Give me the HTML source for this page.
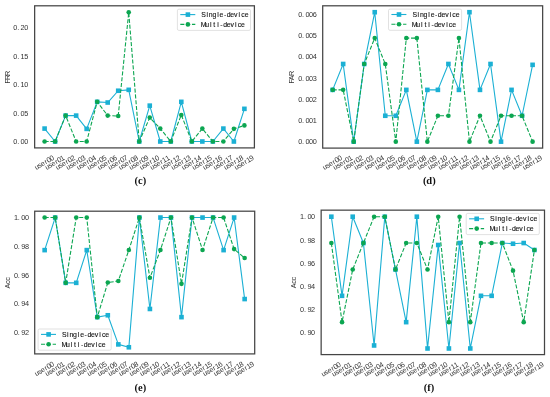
<!DOCTYPE html>
<html><head><meta charset="utf-8"><title>Figure</title>
<style>html,body{margin:0;padding:0;background:#fff}svg{display:block}</style></head>
<body>
<svg width="550" height="397" viewBox="0 0 550 397">
<rect width="550" height="397" fill="#fff"/>
<g>
<polyline points="44.60,128.58 55.12,141.50 65.63,115.61 76.15,115.61 86.66,128.87 97.18,101.84 107.69,102.52 118.21,90.75 128.73,89.83 139.24,141.50 149.76,105.65 160.27,141.50 170.79,141.50 181.31,101.84 191.82,141.50 202.34,141.50 212.85,141.50 223.37,128.58 233.88,141.50 244.40,108.84" fill="none" stroke="#1BB0D4" stroke-width="1.10" stroke-linejoin="round"/>
<rect x="42.30" y="126.28" width="4.60" height="4.60" fill="#1BB0D4"/>
<rect x="52.82" y="139.20" width="4.60" height="4.60" fill="#1BB0D4"/>
<rect x="63.33" y="113.31" width="4.60" height="4.60" fill="#1BB0D4"/>
<rect x="73.85" y="113.31" width="4.60" height="4.60" fill="#1BB0D4"/>
<rect x="84.36" y="126.57" width="4.60" height="4.60" fill="#1BB0D4"/>
<rect x="94.88" y="99.54" width="4.60" height="4.60" fill="#1BB0D4"/>
<rect x="105.39" y="100.22" width="4.60" height="4.60" fill="#1BB0D4"/>
<rect x="115.91" y="88.45" width="4.60" height="4.60" fill="#1BB0D4"/>
<rect x="126.43" y="87.53" width="4.60" height="4.60" fill="#1BB0D4"/>
<rect x="136.94" y="139.20" width="4.60" height="4.60" fill="#1BB0D4"/>
<rect x="147.46" y="103.35" width="4.60" height="4.60" fill="#1BB0D4"/>
<rect x="157.97" y="139.20" width="4.60" height="4.60" fill="#1BB0D4"/>
<rect x="168.49" y="139.20" width="4.60" height="4.60" fill="#1BB0D4"/>
<rect x="179.01" y="99.54" width="4.60" height="4.60" fill="#1BB0D4"/>
<rect x="189.52" y="139.20" width="4.60" height="4.60" fill="#1BB0D4"/>
<rect x="200.04" y="139.20" width="4.60" height="4.60" fill="#1BB0D4"/>
<rect x="210.55" y="139.20" width="4.60" height="4.60" fill="#1BB0D4"/>
<rect x="221.07" y="126.28" width="4.60" height="4.60" fill="#1BB0D4"/>
<rect x="231.58" y="139.20" width="4.60" height="4.60" fill="#1BB0D4"/>
<rect x="242.10" y="106.54" width="4.60" height="4.60" fill="#1BB0D4"/>
<polyline points="44.60,141.50 55.12,141.50 65.63,115.61 76.15,141.50 86.66,141.50 97.18,101.84 107.69,115.61 118.21,116.01 128.73,12.34 139.24,141.50 149.76,117.60 160.27,128.58 170.79,141.50 181.31,114.93 191.82,141.50 202.34,128.58 212.85,141.50 223.37,141.50 233.88,128.87 244.40,125.40" fill="none" stroke="#0CA651" stroke-width="1.10" stroke-dasharray="4.07 1.76" stroke-linejoin="round"/>
<circle cx="44.60" cy="141.50" r="2.30" fill="#0CA651"/>
<circle cx="55.12" cy="141.50" r="2.30" fill="#0CA651"/>
<circle cx="65.63" cy="115.61" r="2.30" fill="#0CA651"/>
<circle cx="76.15" cy="141.50" r="2.30" fill="#0CA651"/>
<circle cx="86.66" cy="141.50" r="2.30" fill="#0CA651"/>
<circle cx="97.18" cy="101.84" r="2.30" fill="#0CA651"/>
<circle cx="107.69" cy="115.61" r="2.30" fill="#0CA651"/>
<circle cx="118.21" cy="116.01" r="2.30" fill="#0CA651"/>
<circle cx="128.73" cy="12.34" r="2.30" fill="#0CA651"/>
<circle cx="139.24" cy="141.50" r="2.30" fill="#0CA651"/>
<circle cx="149.76" cy="117.60" r="2.30" fill="#0CA651"/>
<circle cx="160.27" cy="128.58" r="2.30" fill="#0CA651"/>
<circle cx="170.79" cy="141.50" r="2.30" fill="#0CA651"/>
<circle cx="181.31" cy="114.93" r="2.30" fill="#0CA651"/>
<circle cx="191.82" cy="141.50" r="2.30" fill="#0CA651"/>
<circle cx="202.34" cy="128.58" r="2.30" fill="#0CA651"/>
<circle cx="212.85" cy="141.50" r="2.30" fill="#0CA651"/>
<circle cx="223.37" cy="141.50" r="2.30" fill="#0CA651"/>
<circle cx="233.88" cy="128.87" r="2.30" fill="#0CA651"/>
<circle cx="244.40" cy="125.40" r="2.30" fill="#0CA651"/>
<rect x="34.65" y="5.80" width="219.75" height="142.10" fill="none" stroke="#454545" stroke-width="1.25"/>
<text transform="translate(28.10,144.10)" x="-12.78 -9.93 -5.47 -1.82" text-anchor="middle" font-family="'Liberation Sans',sans-serif" font-size="7.3" fill="#333">0.00</text>
<text transform="translate(28.10,115.65)" x="-12.78 -9.93 -5.47 -1.82" text-anchor="middle" font-family="'Liberation Sans',sans-serif" font-size="7.3" fill="#333">0.05</text>
<text transform="translate(28.10,87.20)" x="-12.78 -9.93 -5.47 -1.82" text-anchor="middle" font-family="'Liberation Sans',sans-serif" font-size="7.3" fill="#333">0.10</text>
<text transform="translate(28.10,58.75)" x="-12.78 -9.93 -5.47 -1.82" text-anchor="middle" font-family="'Liberation Sans',sans-serif" font-size="7.3" fill="#333">0.15</text>
<text transform="translate(28.10,30.30)" x="-12.78 -9.93 -5.47 -1.82" text-anchor="middle" font-family="'Liberation Sans',sans-serif" font-size="7.3" fill="#333">0.20</text>
<text transform="translate(45.40,164.60) rotate(-30)" x="-8.75 -5.25 -1.75 1.75 5.25 8.75" text-anchor="middle" font-family="'Liberation Sans',sans-serif" font-size="7.3" fill="#333"><tspan font-size="7.0">user</tspan>00</text>
<text transform="translate(55.92,164.60) rotate(-30)" x="-8.75 -5.25 -1.75 1.75 5.25 8.75" text-anchor="middle" font-family="'Liberation Sans',sans-serif" font-size="7.3" fill="#333"><tspan font-size="7.0">user</tspan>01</text>
<text transform="translate(66.43,164.60) rotate(-30)" x="-8.75 -5.25 -1.75 1.75 5.25 8.75" text-anchor="middle" font-family="'Liberation Sans',sans-serif" font-size="7.3" fill="#333"><tspan font-size="7.0">user</tspan>02</text>
<text transform="translate(76.95,164.60) rotate(-30)" x="-8.75 -5.25 -1.75 1.75 5.25 8.75" text-anchor="middle" font-family="'Liberation Sans',sans-serif" font-size="7.3" fill="#333"><tspan font-size="7.0">user</tspan>03</text>
<text transform="translate(87.46,164.60) rotate(-30)" x="-8.75 -5.25 -1.75 1.75 5.25 8.75" text-anchor="middle" font-family="'Liberation Sans',sans-serif" font-size="7.3" fill="#333"><tspan font-size="7.0">user</tspan>04</text>
<text transform="translate(97.98,164.60) rotate(-30)" x="-8.75 -5.25 -1.75 1.75 5.25 8.75" text-anchor="middle" font-family="'Liberation Sans',sans-serif" font-size="7.3" fill="#333"><tspan font-size="7.0">user</tspan>05</text>
<text transform="translate(108.49,164.60) rotate(-30)" x="-8.75 -5.25 -1.75 1.75 5.25 8.75" text-anchor="middle" font-family="'Liberation Sans',sans-serif" font-size="7.3" fill="#333"><tspan font-size="7.0">user</tspan>06</text>
<text transform="translate(119.01,164.60) rotate(-30)" x="-8.75 -5.25 -1.75 1.75 5.25 8.75" text-anchor="middle" font-family="'Liberation Sans',sans-serif" font-size="7.3" fill="#333"><tspan font-size="7.0">user</tspan>07</text>
<text transform="translate(129.53,164.60) rotate(-30)" x="-8.75 -5.25 -1.75 1.75 5.25 8.75" text-anchor="middle" font-family="'Liberation Sans',sans-serif" font-size="7.3" fill="#333"><tspan font-size="7.0">user</tspan>08</text>
<text transform="translate(140.04,164.60) rotate(-30)" x="-8.75 -5.25 -1.75 1.75 5.25 8.75" text-anchor="middle" font-family="'Liberation Sans',sans-serif" font-size="7.3" fill="#333"><tspan font-size="7.0">user</tspan>09</text>
<text transform="translate(150.56,164.60) rotate(-30)" x="-8.75 -5.25 -1.75 1.75 5.25 8.75" text-anchor="middle" font-family="'Liberation Sans',sans-serif" font-size="7.3" fill="#333"><tspan font-size="7.0">user</tspan>10</text>
<text transform="translate(161.07,164.60) rotate(-30)" x="-8.75 -5.25 -1.75 1.75 5.25 8.75" text-anchor="middle" font-family="'Liberation Sans',sans-serif" font-size="7.3" fill="#333"><tspan font-size="7.0">user</tspan>11</text>
<text transform="translate(171.59,164.60) rotate(-30)" x="-8.75 -5.25 -1.75 1.75 5.25 8.75" text-anchor="middle" font-family="'Liberation Sans',sans-serif" font-size="7.3" fill="#333"><tspan font-size="7.0">user</tspan>12</text>
<text transform="translate(182.11,164.60) rotate(-30)" x="-8.75 -5.25 -1.75 1.75 5.25 8.75" text-anchor="middle" font-family="'Liberation Sans',sans-serif" font-size="7.3" fill="#333"><tspan font-size="7.0">user</tspan>13</text>
<text transform="translate(192.62,164.60) rotate(-30)" x="-8.75 -5.25 -1.75 1.75 5.25 8.75" text-anchor="middle" font-family="'Liberation Sans',sans-serif" font-size="7.3" fill="#333"><tspan font-size="7.0">user</tspan>14</text>
<text transform="translate(203.14,164.60) rotate(-30)" x="-8.75 -5.25 -1.75 1.75 5.25 8.75" text-anchor="middle" font-family="'Liberation Sans',sans-serif" font-size="7.3" fill="#333"><tspan font-size="7.0">user</tspan>15</text>
<text transform="translate(213.65,164.60) rotate(-30)" x="-8.75 -5.25 -1.75 1.75 5.25 8.75" text-anchor="middle" font-family="'Liberation Sans',sans-serif" font-size="7.3" fill="#333"><tspan font-size="7.0">user</tspan>16</text>
<text transform="translate(224.17,164.60) rotate(-30)" x="-8.75 -5.25 -1.75 1.75 5.25 8.75" text-anchor="middle" font-family="'Liberation Sans',sans-serif" font-size="7.3" fill="#333"><tspan font-size="7.0">user</tspan>17</text>
<text transform="translate(234.68,164.60) rotate(-30)" x="-8.75 -5.25 -1.75 1.75 5.25 8.75" text-anchor="middle" font-family="'Liberation Sans',sans-serif" font-size="7.3" fill="#333"><tspan font-size="7.0">user</tspan>18</text>
<text transform="translate(245.20,164.60) rotate(-30)" x="-8.75 -5.25 -1.75 1.75 5.25 8.75" text-anchor="middle" font-family="'Liberation Sans',sans-serif" font-size="7.3" fill="#333"><tspan font-size="7.0">user</tspan>19</text>
<text transform="translate(10.20,77.05) rotate(-90)" text-anchor="middle" font-family="'Liberation Sans',sans-serif" font-size="7.3" fill="#333" textLength="12.75" lengthAdjust="spacing">FRR</text>
<rect x="177.40" y="9.20" width="73.1" height="21.2" rx="1.5" ry="1.5" fill="#fff" fill-opacity="0.8" stroke="#ccc" stroke-width="0.6"/>
<line x1="180.30" y1="14.60" x2="195.30" y2="14.60" stroke="#1BB0D4" stroke-width="1.10"/>
<rect x="185.60" y="12.30" width="4.60" height="4.60" fill="#1BB0D4"/>
<line x1="180.30" y1="24.40" x2="195.30" y2="24.40" stroke="#0CA651" stroke-width="1.10" stroke-dasharray="4.07 1.76"/>
<circle cx="187.90" cy="24.40" r="2.30" fill="#0CA651"/>
<text transform="translate(201.80,17.10)" x="1.79 5.37 8.95 12.53 16.11 19.69 23.27 26.85 30.43 34.01 37.59 41.17 44.75" text-anchor="middle" font-family="'Liberation Sans',sans-serif" font-size="6.9" fill="#151515" stroke="#151515" stroke-width="0.12">Single-device</text>
<text transform="translate(201.80,26.90)" x="1.79 5.37 8.95 12.53 16.11 19.69 23.27 26.85 30.43 34.01 37.59 41.17" text-anchor="middle" font-family="'Liberation Sans',sans-serif" font-size="6.9" fill="#151515" stroke="#151515" stroke-width="0.12">Multi-device</text>
<text x="140.40" y="183.90" text-anchor="middle" font-family="'Liberation Serif',serif" font-weight="bold" font-size="10.5" fill="#111">(c)</text>
</g>
<g>
<polyline points="332.65,89.87 343.17,63.98 353.70,141.65 364.22,63.98 374.74,12.21 385.27,115.76 395.79,115.76 406.32,89.87 416.84,141.65 427.36,89.87 437.89,89.87 448.41,63.98 458.93,89.87 469.46,12.21 479.98,89.87 490.51,63.98 501.03,141.65 511.55,89.87 522.08,115.76 532.60,64.83" fill="none" stroke="#1BB0D4" stroke-width="1.10" stroke-linejoin="round"/>
<rect x="330.35" y="87.57" width="4.60" height="4.60" fill="#1BB0D4"/>
<rect x="340.87" y="61.68" width="4.60" height="4.60" fill="#1BB0D4"/>
<rect x="351.40" y="139.35" width="4.60" height="4.60" fill="#1BB0D4"/>
<rect x="361.92" y="61.68" width="4.60" height="4.60" fill="#1BB0D4"/>
<rect x="372.44" y="9.91" width="4.60" height="4.60" fill="#1BB0D4"/>
<rect x="382.97" y="113.46" width="4.60" height="4.60" fill="#1BB0D4"/>
<rect x="393.49" y="113.46" width="4.60" height="4.60" fill="#1BB0D4"/>
<rect x="404.02" y="87.57" width="4.60" height="4.60" fill="#1BB0D4"/>
<rect x="414.54" y="139.35" width="4.60" height="4.60" fill="#1BB0D4"/>
<rect x="425.06" y="87.57" width="4.60" height="4.60" fill="#1BB0D4"/>
<rect x="435.59" y="87.57" width="4.60" height="4.60" fill="#1BB0D4"/>
<rect x="446.11" y="61.68" width="4.60" height="4.60" fill="#1BB0D4"/>
<rect x="456.63" y="87.57" width="4.60" height="4.60" fill="#1BB0D4"/>
<rect x="467.16" y="9.91" width="4.60" height="4.60" fill="#1BB0D4"/>
<rect x="477.68" y="87.57" width="4.60" height="4.60" fill="#1BB0D4"/>
<rect x="488.21" y="61.68" width="4.60" height="4.60" fill="#1BB0D4"/>
<rect x="498.73" y="139.35" width="4.60" height="4.60" fill="#1BB0D4"/>
<rect x="509.25" y="87.57" width="4.60" height="4.60" fill="#1BB0D4"/>
<rect x="519.78" y="113.46" width="4.60" height="4.60" fill="#1BB0D4"/>
<rect x="530.30" y="62.53" width="4.60" height="4.60" fill="#1BB0D4"/>
<polyline points="332.65,89.87 343.17,89.87 353.70,141.65 364.22,63.98 374.74,38.10 385.27,63.98 395.79,141.65 406.32,38.10 416.84,38.10 427.36,141.65 437.89,115.76 448.41,115.76 458.93,38.10 469.46,141.65 479.98,115.76 490.51,141.65 501.03,115.76 511.55,115.76 522.08,115.76 532.60,141.65" fill="none" stroke="#0CA651" stroke-width="1.10" stroke-dasharray="4.07 1.76" stroke-linejoin="round"/>
<circle cx="332.65" cy="89.87" r="2.30" fill="#0CA651"/>
<circle cx="343.17" cy="89.87" r="2.30" fill="#0CA651"/>
<circle cx="353.70" cy="141.65" r="2.30" fill="#0CA651"/>
<circle cx="364.22" cy="63.98" r="2.30" fill="#0CA651"/>
<circle cx="374.74" cy="38.10" r="2.30" fill="#0CA651"/>
<circle cx="385.27" cy="63.98" r="2.30" fill="#0CA651"/>
<circle cx="395.79" cy="141.65" r="2.30" fill="#0CA651"/>
<circle cx="406.32" cy="38.10" r="2.30" fill="#0CA651"/>
<circle cx="416.84" cy="38.10" r="2.30" fill="#0CA651"/>
<circle cx="427.36" cy="141.65" r="2.30" fill="#0CA651"/>
<circle cx="437.89" cy="115.76" r="2.30" fill="#0CA651"/>
<circle cx="448.41" cy="115.76" r="2.30" fill="#0CA651"/>
<circle cx="458.93" cy="38.10" r="2.30" fill="#0CA651"/>
<circle cx="469.46" cy="141.65" r="2.30" fill="#0CA651"/>
<circle cx="479.98" cy="115.76" r="2.30" fill="#0CA651"/>
<circle cx="490.51" cy="141.65" r="2.30" fill="#0CA651"/>
<circle cx="501.03" cy="115.76" r="2.30" fill="#0CA651"/>
<circle cx="511.55" cy="115.76" r="2.30" fill="#0CA651"/>
<circle cx="522.08" cy="115.76" r="2.30" fill="#0CA651"/>
<circle cx="532.60" cy="141.65" r="2.30" fill="#0CA651"/>
<rect x="322.70" y="5.80" width="219.95" height="142.30" fill="none" stroke="#454545" stroke-width="1.25"/>
<text transform="translate(316.60,144.25)" x="-16.43 -13.58 -9.12 -5.47 -1.82" text-anchor="middle" font-family="'Liberation Sans',sans-serif" font-size="7.3" fill="#333">0.000</text>
<text transform="translate(316.60,123.03)" x="-16.43 -13.58 -9.12 -5.47 -1.82" text-anchor="middle" font-family="'Liberation Sans',sans-serif" font-size="7.3" fill="#333">0.001</text>
<text transform="translate(316.60,101.81)" x="-16.43 -13.58 -9.12 -5.47 -1.82" text-anchor="middle" font-family="'Liberation Sans',sans-serif" font-size="7.3" fill="#333">0.002</text>
<text transform="translate(316.60,80.59)" x="-16.43 -13.58 -9.12 -5.47 -1.82" text-anchor="middle" font-family="'Liberation Sans',sans-serif" font-size="7.3" fill="#333">0.003</text>
<text transform="translate(316.60,59.37)" x="-16.43 -13.58 -9.12 -5.47 -1.82" text-anchor="middle" font-family="'Liberation Sans',sans-serif" font-size="7.3" fill="#333">0.004</text>
<text transform="translate(316.60,38.15)" x="-16.43 -13.58 -9.12 -5.47 -1.82" text-anchor="middle" font-family="'Liberation Sans',sans-serif" font-size="7.3" fill="#333">0.005</text>
<text transform="translate(316.60,16.93)" x="-16.43 -13.58 -9.12 -5.47 -1.82" text-anchor="middle" font-family="'Liberation Sans',sans-serif" font-size="7.3" fill="#333">0.006</text>
<text transform="translate(333.45,164.70) rotate(-30)" x="-8.75 -5.25 -1.75 1.75 5.25 8.75" text-anchor="middle" font-family="'Liberation Sans',sans-serif" font-size="7.3" fill="#333"><tspan font-size="7.0">user</tspan>00</text>
<text transform="translate(343.97,164.70) rotate(-30)" x="-8.75 -5.25 -1.75 1.75 5.25 8.75" text-anchor="middle" font-family="'Liberation Sans',sans-serif" font-size="7.3" fill="#333"><tspan font-size="7.0">user</tspan>01</text>
<text transform="translate(354.50,164.70) rotate(-30)" x="-8.75 -5.25 -1.75 1.75 5.25 8.75" text-anchor="middle" font-family="'Liberation Sans',sans-serif" font-size="7.3" fill="#333"><tspan font-size="7.0">user</tspan>02</text>
<text transform="translate(365.02,164.70) rotate(-30)" x="-8.75 -5.25 -1.75 1.75 5.25 8.75" text-anchor="middle" font-family="'Liberation Sans',sans-serif" font-size="7.3" fill="#333"><tspan font-size="7.0">user</tspan>03</text>
<text transform="translate(375.54,164.70) rotate(-30)" x="-8.75 -5.25 -1.75 1.75 5.25 8.75" text-anchor="middle" font-family="'Liberation Sans',sans-serif" font-size="7.3" fill="#333"><tspan font-size="7.0">user</tspan>04</text>
<text transform="translate(386.07,164.70) rotate(-30)" x="-8.75 -5.25 -1.75 1.75 5.25 8.75" text-anchor="middle" font-family="'Liberation Sans',sans-serif" font-size="7.3" fill="#333"><tspan font-size="7.0">user</tspan>05</text>
<text transform="translate(396.59,164.70) rotate(-30)" x="-8.75 -5.25 -1.75 1.75 5.25 8.75" text-anchor="middle" font-family="'Liberation Sans',sans-serif" font-size="7.3" fill="#333"><tspan font-size="7.0">user</tspan>06</text>
<text transform="translate(407.12,164.70) rotate(-30)" x="-8.75 -5.25 -1.75 1.75 5.25 8.75" text-anchor="middle" font-family="'Liberation Sans',sans-serif" font-size="7.3" fill="#333"><tspan font-size="7.0">user</tspan>07</text>
<text transform="translate(417.64,164.70) rotate(-30)" x="-8.75 -5.25 -1.75 1.75 5.25 8.75" text-anchor="middle" font-family="'Liberation Sans',sans-serif" font-size="7.3" fill="#333"><tspan font-size="7.0">user</tspan>08</text>
<text transform="translate(428.16,164.70) rotate(-30)" x="-8.75 -5.25 -1.75 1.75 5.25 8.75" text-anchor="middle" font-family="'Liberation Sans',sans-serif" font-size="7.3" fill="#333"><tspan font-size="7.0">user</tspan>09</text>
<text transform="translate(438.69,164.70) rotate(-30)" x="-8.75 -5.25 -1.75 1.75 5.25 8.75" text-anchor="middle" font-family="'Liberation Sans',sans-serif" font-size="7.3" fill="#333"><tspan font-size="7.0">user</tspan>10</text>
<text transform="translate(449.21,164.70) rotate(-30)" x="-8.75 -5.25 -1.75 1.75 5.25 8.75" text-anchor="middle" font-family="'Liberation Sans',sans-serif" font-size="7.3" fill="#333"><tspan font-size="7.0">user</tspan>11</text>
<text transform="translate(459.73,164.70) rotate(-30)" x="-8.75 -5.25 -1.75 1.75 5.25 8.75" text-anchor="middle" font-family="'Liberation Sans',sans-serif" font-size="7.3" fill="#333"><tspan font-size="7.0">user</tspan>12</text>
<text transform="translate(470.26,164.70) rotate(-30)" x="-8.75 -5.25 -1.75 1.75 5.25 8.75" text-anchor="middle" font-family="'Liberation Sans',sans-serif" font-size="7.3" fill="#333"><tspan font-size="7.0">user</tspan>13</text>
<text transform="translate(480.78,164.70) rotate(-30)" x="-8.75 -5.25 -1.75 1.75 5.25 8.75" text-anchor="middle" font-family="'Liberation Sans',sans-serif" font-size="7.3" fill="#333"><tspan font-size="7.0">user</tspan>14</text>
<text transform="translate(491.31,164.70) rotate(-30)" x="-8.75 -5.25 -1.75 1.75 5.25 8.75" text-anchor="middle" font-family="'Liberation Sans',sans-serif" font-size="7.3" fill="#333"><tspan font-size="7.0">user</tspan>15</text>
<text transform="translate(501.83,164.70) rotate(-30)" x="-8.75 -5.25 -1.75 1.75 5.25 8.75" text-anchor="middle" font-family="'Liberation Sans',sans-serif" font-size="7.3" fill="#333"><tspan font-size="7.0">user</tspan>16</text>
<text transform="translate(512.35,164.70) rotate(-30)" x="-8.75 -5.25 -1.75 1.75 5.25 8.75" text-anchor="middle" font-family="'Liberation Sans',sans-serif" font-size="7.3" fill="#333"><tspan font-size="7.0">user</tspan>17</text>
<text transform="translate(522.88,164.70) rotate(-30)" x="-8.75 -5.25 -1.75 1.75 5.25 8.75" text-anchor="middle" font-family="'Liberation Sans',sans-serif" font-size="7.3" fill="#333"><tspan font-size="7.0">user</tspan>18</text>
<text transform="translate(533.40,164.70) rotate(-30)" x="-8.75 -5.25 -1.75 1.75 5.25 8.75" text-anchor="middle" font-family="'Liberation Sans',sans-serif" font-size="7.3" fill="#333"><tspan font-size="7.0">user</tspan>19</text>
<text transform="translate(294.20,77.15) rotate(-90)" text-anchor="middle" font-family="'Liberation Sans',sans-serif" font-size="7.3" fill="#333" textLength="12.75" lengthAdjust="spacing">FAR</text>
<rect x="388.50" y="9.10" width="73.1" height="21.2" rx="1.5" ry="1.5" fill="#fff" fill-opacity="0.8" stroke="#ccc" stroke-width="0.6"/>
<line x1="391.40" y1="14.50" x2="406.40" y2="14.50" stroke="#1BB0D4" stroke-width="1.10"/>
<rect x="396.70" y="12.20" width="4.60" height="4.60" fill="#1BB0D4"/>
<line x1="391.40" y1="24.30" x2="406.40" y2="24.30" stroke="#0CA651" stroke-width="1.10" stroke-dasharray="4.07 1.76"/>
<circle cx="399.00" cy="24.30" r="2.30" fill="#0CA651"/>
<text transform="translate(412.90,17.00)" x="1.79 5.37 8.95 12.53 16.11 19.69 23.27 26.85 30.43 34.01 37.59 41.17 44.75" text-anchor="middle" font-family="'Liberation Sans',sans-serif" font-size="6.9" fill="#151515" stroke="#151515" stroke-width="0.12">Single-device</text>
<text transform="translate(412.90,26.80)" x="1.79 5.37 8.95 12.53 16.11 19.69 23.27 26.85 30.43 34.01 37.59 41.17" text-anchor="middle" font-family="'Liberation Sans',sans-serif" font-size="6.9" fill="#151515" stroke="#151515" stroke-width="0.12">Multi-device</text>
<text x="429.30" y="183.90" text-anchor="middle" font-family="'Liberation Serif',serif" font-weight="bold" font-size="10.5" fill="#111">(d)</text>
</g>
<g>
<polyline points="44.65,250.12 55.18,217.55 65.70,282.84 76.23,282.84 86.76,250.12 97.28,317.14 107.81,315.27 118.33,344.40 128.86,347.27 139.39,217.55 149.91,308.96 160.44,217.55 170.97,217.55 181.49,317.14 192.02,217.55 202.54,217.55 213.07,217.55 223.60,250.12 234.12,217.55 244.65,299.06" fill="none" stroke="#1BB0D4" stroke-width="1.10" stroke-linejoin="round"/>
<rect x="42.35" y="247.82" width="4.60" height="4.60" fill="#1BB0D4"/>
<rect x="52.88" y="215.25" width="4.60" height="4.60" fill="#1BB0D4"/>
<rect x="63.40" y="280.54" width="4.60" height="4.60" fill="#1BB0D4"/>
<rect x="73.93" y="280.54" width="4.60" height="4.60" fill="#1BB0D4"/>
<rect x="84.46" y="247.82" width="4.60" height="4.60" fill="#1BB0D4"/>
<rect x="94.98" y="314.84" width="4.60" height="4.60" fill="#1BB0D4"/>
<rect x="105.51" y="312.97" width="4.60" height="4.60" fill="#1BB0D4"/>
<rect x="116.03" y="342.10" width="4.60" height="4.60" fill="#1BB0D4"/>
<rect x="126.56" y="344.97" width="4.60" height="4.60" fill="#1BB0D4"/>
<rect x="137.09" y="215.25" width="4.60" height="4.60" fill="#1BB0D4"/>
<rect x="147.61" y="306.66" width="4.60" height="4.60" fill="#1BB0D4"/>
<rect x="158.14" y="215.25" width="4.60" height="4.60" fill="#1BB0D4"/>
<rect x="168.67" y="215.25" width="4.60" height="4.60" fill="#1BB0D4"/>
<rect x="179.19" y="314.84" width="4.60" height="4.60" fill="#1BB0D4"/>
<rect x="189.72" y="215.25" width="4.60" height="4.60" fill="#1BB0D4"/>
<rect x="200.24" y="215.25" width="4.60" height="4.60" fill="#1BB0D4"/>
<rect x="210.77" y="215.25" width="4.60" height="4.60" fill="#1BB0D4"/>
<rect x="221.30" y="247.82" width="4.60" height="4.60" fill="#1BB0D4"/>
<rect x="231.82" y="215.25" width="4.60" height="4.60" fill="#1BB0D4"/>
<rect x="242.35" y="296.76" width="4.60" height="4.60" fill="#1BB0D4"/>
<polyline points="44.65,217.55 55.18,217.55 65.70,282.84 76.23,217.55 86.76,217.55 97.28,317.14 107.81,282.56 118.33,280.98 128.86,249.98 139.39,217.55 149.91,277.82 160.44,249.98 170.97,217.55 181.49,283.85 192.02,217.55 202.54,249.98 213.07,217.55 223.60,217.55 234.12,249.12 244.65,258.02" fill="none" stroke="#0CA651" stroke-width="1.10" stroke-dasharray="4.07 1.76" stroke-linejoin="round"/>
<circle cx="44.65" cy="217.55" r="2.30" fill="#0CA651"/>
<circle cx="55.18" cy="217.55" r="2.30" fill="#0CA651"/>
<circle cx="65.70" cy="282.84" r="2.30" fill="#0CA651"/>
<circle cx="76.23" cy="217.55" r="2.30" fill="#0CA651"/>
<circle cx="86.76" cy="217.55" r="2.30" fill="#0CA651"/>
<circle cx="97.28" cy="317.14" r="2.30" fill="#0CA651"/>
<circle cx="107.81" cy="282.56" r="2.30" fill="#0CA651"/>
<circle cx="118.33" cy="280.98" r="2.30" fill="#0CA651"/>
<circle cx="128.86" cy="249.98" r="2.30" fill="#0CA651"/>
<circle cx="139.39" cy="217.55" r="2.30" fill="#0CA651"/>
<circle cx="149.91" cy="277.82" r="2.30" fill="#0CA651"/>
<circle cx="160.44" cy="249.98" r="2.30" fill="#0CA651"/>
<circle cx="170.97" cy="217.55" r="2.30" fill="#0CA651"/>
<circle cx="181.49" cy="283.85" r="2.30" fill="#0CA651"/>
<circle cx="192.02" cy="217.55" r="2.30" fill="#0CA651"/>
<circle cx="202.54" cy="249.98" r="2.30" fill="#0CA651"/>
<circle cx="213.07" cy="217.55" r="2.30" fill="#0CA651"/>
<circle cx="223.60" cy="217.55" r="2.30" fill="#0CA651"/>
<circle cx="234.12" cy="249.12" r="2.30" fill="#0CA651"/>
<circle cx="244.65" cy="258.02" r="2.30" fill="#0CA651"/>
<rect x="34.70" y="211.20" width="220.00" height="142.70" fill="none" stroke="#454545" stroke-width="1.25"/>
<text transform="translate(28.80,334.95)" x="-12.78 -9.93 -5.47 -1.82" text-anchor="middle" font-family="'Liberation Sans',sans-serif" font-size="7.3" fill="#333">0.92</text>
<text transform="translate(28.80,306.25)" x="-12.78 -9.93 -5.47 -1.82" text-anchor="middle" font-family="'Liberation Sans',sans-serif" font-size="7.3" fill="#333">0.94</text>
<text transform="translate(28.80,277.55)" x="-12.78 -9.93 -5.47 -1.82" text-anchor="middle" font-family="'Liberation Sans',sans-serif" font-size="7.3" fill="#333">0.96</text>
<text transform="translate(28.80,248.85)" x="-12.78 -9.93 -5.47 -1.82" text-anchor="middle" font-family="'Liberation Sans',sans-serif" font-size="7.3" fill="#333">0.98</text>
<text transform="translate(28.80,220.15)" x="-12.78 -9.93 -5.47 -1.82" text-anchor="middle" font-family="'Liberation Sans',sans-serif" font-size="7.3" fill="#333">1.00</text>
<text transform="translate(45.45,370.90) rotate(-30)" x="-8.75 -5.25 -1.75 1.75 5.25 8.75" text-anchor="middle" font-family="'Liberation Sans',sans-serif" font-size="7.3" fill="#333"><tspan font-size="7.0">user</tspan>00</text>
<text transform="translate(55.98,370.90) rotate(-30)" x="-8.75 -5.25 -1.75 1.75 5.25 8.75" text-anchor="middle" font-family="'Liberation Sans',sans-serif" font-size="7.3" fill="#333"><tspan font-size="7.0">user</tspan>01</text>
<text transform="translate(66.50,370.90) rotate(-30)" x="-8.75 -5.25 -1.75 1.75 5.25 8.75" text-anchor="middle" font-family="'Liberation Sans',sans-serif" font-size="7.3" fill="#333"><tspan font-size="7.0">user</tspan>02</text>
<text transform="translate(77.03,370.90) rotate(-30)" x="-8.75 -5.25 -1.75 1.75 5.25 8.75" text-anchor="middle" font-family="'Liberation Sans',sans-serif" font-size="7.3" fill="#333"><tspan font-size="7.0">user</tspan>03</text>
<text transform="translate(87.56,370.90) rotate(-30)" x="-8.75 -5.25 -1.75 1.75 5.25 8.75" text-anchor="middle" font-family="'Liberation Sans',sans-serif" font-size="7.3" fill="#333"><tspan font-size="7.0">user</tspan>04</text>
<text transform="translate(98.08,370.90) rotate(-30)" x="-8.75 -5.25 -1.75 1.75 5.25 8.75" text-anchor="middle" font-family="'Liberation Sans',sans-serif" font-size="7.3" fill="#333"><tspan font-size="7.0">user</tspan>05</text>
<text transform="translate(108.61,370.90) rotate(-30)" x="-8.75 -5.25 -1.75 1.75 5.25 8.75" text-anchor="middle" font-family="'Liberation Sans',sans-serif" font-size="7.3" fill="#333"><tspan font-size="7.0">user</tspan>06</text>
<text transform="translate(119.13,370.90) rotate(-30)" x="-8.75 -5.25 -1.75 1.75 5.25 8.75" text-anchor="middle" font-family="'Liberation Sans',sans-serif" font-size="7.3" fill="#333"><tspan font-size="7.0">user</tspan>07</text>
<text transform="translate(129.66,370.90) rotate(-30)" x="-8.75 -5.25 -1.75 1.75 5.25 8.75" text-anchor="middle" font-family="'Liberation Sans',sans-serif" font-size="7.3" fill="#333"><tspan font-size="7.0">user</tspan>08</text>
<text transform="translate(140.19,370.90) rotate(-30)" x="-8.75 -5.25 -1.75 1.75 5.25 8.75" text-anchor="middle" font-family="'Liberation Sans',sans-serif" font-size="7.3" fill="#333"><tspan font-size="7.0">user</tspan>09</text>
<text transform="translate(150.71,370.90) rotate(-30)" x="-8.75 -5.25 -1.75 1.75 5.25 8.75" text-anchor="middle" font-family="'Liberation Sans',sans-serif" font-size="7.3" fill="#333"><tspan font-size="7.0">user</tspan>10</text>
<text transform="translate(161.24,370.90) rotate(-30)" x="-8.75 -5.25 -1.75 1.75 5.25 8.75" text-anchor="middle" font-family="'Liberation Sans',sans-serif" font-size="7.3" fill="#333"><tspan font-size="7.0">user</tspan>11</text>
<text transform="translate(171.77,370.90) rotate(-30)" x="-8.75 -5.25 -1.75 1.75 5.25 8.75" text-anchor="middle" font-family="'Liberation Sans',sans-serif" font-size="7.3" fill="#333"><tspan font-size="7.0">user</tspan>12</text>
<text transform="translate(182.29,370.90) rotate(-30)" x="-8.75 -5.25 -1.75 1.75 5.25 8.75" text-anchor="middle" font-family="'Liberation Sans',sans-serif" font-size="7.3" fill="#333"><tspan font-size="7.0">user</tspan>13</text>
<text transform="translate(192.82,370.90) rotate(-30)" x="-8.75 -5.25 -1.75 1.75 5.25 8.75" text-anchor="middle" font-family="'Liberation Sans',sans-serif" font-size="7.3" fill="#333"><tspan font-size="7.0">user</tspan>14</text>
<text transform="translate(203.34,370.90) rotate(-30)" x="-8.75 -5.25 -1.75 1.75 5.25 8.75" text-anchor="middle" font-family="'Liberation Sans',sans-serif" font-size="7.3" fill="#333"><tspan font-size="7.0">user</tspan>15</text>
<text transform="translate(213.87,370.90) rotate(-30)" x="-8.75 -5.25 -1.75 1.75 5.25 8.75" text-anchor="middle" font-family="'Liberation Sans',sans-serif" font-size="7.3" fill="#333"><tspan font-size="7.0">user</tspan>16</text>
<text transform="translate(224.40,370.90) rotate(-30)" x="-8.75 -5.25 -1.75 1.75 5.25 8.75" text-anchor="middle" font-family="'Liberation Sans',sans-serif" font-size="7.3" fill="#333"><tspan font-size="7.0">user</tspan>17</text>
<text transform="translate(234.92,370.90) rotate(-30)" x="-8.75 -5.25 -1.75 1.75 5.25 8.75" text-anchor="middle" font-family="'Liberation Sans',sans-serif" font-size="7.3" fill="#333"><tspan font-size="7.0">user</tspan>18</text>
<text transform="translate(245.45,370.90) rotate(-30)" x="-8.75 -5.25 -1.75 1.75 5.25 8.75" text-anchor="middle" font-family="'Liberation Sans',sans-serif" font-size="7.3" fill="#333"><tspan font-size="7.0">user</tspan>19</text>
<text transform="translate(9.90,282.75) rotate(-90)" text-anchor="middle" font-family="'Liberation Sans',sans-serif" font-size="7.3" fill="#333" textLength="11.55" lengthAdjust="spacing">Acc</text>
<rect x="38.10" y="329.00" width="73.1" height="21.2" rx="1.5" ry="1.5" fill="#fff" fill-opacity="0.8" stroke="#ccc" stroke-width="0.6"/>
<line x1="41.00" y1="334.40" x2="56.00" y2="334.40" stroke="#1BB0D4" stroke-width="1.10"/>
<rect x="46.30" y="332.10" width="4.60" height="4.60" fill="#1BB0D4"/>
<line x1="41.00" y1="344.20" x2="56.00" y2="344.20" stroke="#0CA651" stroke-width="1.10" stroke-dasharray="4.07 1.76"/>
<circle cx="48.60" cy="344.20" r="2.30" fill="#0CA651"/>
<text transform="translate(62.50,336.90)" x="1.79 5.37 8.95 12.53 16.11 19.69 23.27 26.85 30.43 34.01 37.59 41.17 44.75" text-anchor="middle" font-family="'Liberation Sans',sans-serif" font-size="6.9" fill="#151515" stroke="#151515" stroke-width="0.12">Single-device</text>
<text transform="translate(62.50,346.70)" x="1.79 5.37 8.95 12.53 16.11 19.69 23.27 26.85 30.43 34.01 37.59 41.17" text-anchor="middle" font-family="'Liberation Sans',sans-serif" font-size="6.9" fill="#151515" stroke="#151515" stroke-width="0.12">Multi-device</text>
<text x="140.30" y="390.80" text-anchor="middle" font-family="'Liberation Serif',serif" font-weight="bold" font-size="10.5" fill="#111">(e)</text>
</g>
<g>
<polyline points="331.35,216.70 342.04,295.81 352.72,216.70 363.41,243.03 374.10,345.46 384.78,216.70 395.47,269.48 406.16,322.14 416.84,216.70 427.53,348.48 438.22,245.00 448.91,348.48 459.59,243.03 470.28,348.48 480.97,295.81 491.65,295.81 502.34,243.03 513.03,243.73 523.71,243.03 534.40,249.99" fill="none" stroke="#1BB0D4" stroke-width="1.10" stroke-linejoin="round"/>
<rect x="329.05" y="214.40" width="4.60" height="4.60" fill="#1BB0D4"/>
<rect x="339.74" y="293.51" width="4.60" height="4.60" fill="#1BB0D4"/>
<rect x="350.42" y="214.40" width="4.60" height="4.60" fill="#1BB0D4"/>
<rect x="361.11" y="240.73" width="4.60" height="4.60" fill="#1BB0D4"/>
<rect x="371.80" y="343.16" width="4.60" height="4.60" fill="#1BB0D4"/>
<rect x="382.48" y="214.40" width="4.60" height="4.60" fill="#1BB0D4"/>
<rect x="393.17" y="267.18" width="4.60" height="4.60" fill="#1BB0D4"/>
<rect x="403.86" y="319.84" width="4.60" height="4.60" fill="#1BB0D4"/>
<rect x="414.54" y="214.40" width="4.60" height="4.60" fill="#1BB0D4"/>
<rect x="425.23" y="346.18" width="4.60" height="4.60" fill="#1BB0D4"/>
<rect x="435.92" y="242.70" width="4.60" height="4.60" fill="#1BB0D4"/>
<rect x="446.61" y="346.18" width="4.60" height="4.60" fill="#1BB0D4"/>
<rect x="457.29" y="240.73" width="4.60" height="4.60" fill="#1BB0D4"/>
<rect x="467.98" y="346.18" width="4.60" height="4.60" fill="#1BB0D4"/>
<rect x="478.67" y="293.51" width="4.60" height="4.60" fill="#1BB0D4"/>
<rect x="489.35" y="293.51" width="4.60" height="4.60" fill="#1BB0D4"/>
<rect x="500.04" y="240.73" width="4.60" height="4.60" fill="#1BB0D4"/>
<rect x="510.73" y="241.43" width="4.60" height="4.60" fill="#1BB0D4"/>
<rect x="521.41" y="240.73" width="4.60" height="4.60" fill="#1BB0D4"/>
<rect x="532.10" y="247.69" width="4.60" height="4.60" fill="#1BB0D4"/>
<polyline points="331.35,243.03 342.04,322.14 352.72,269.48 363.41,243.03 374.10,216.70 384.78,216.70 395.47,269.48 406.16,243.03 416.84,243.03 427.53,269.48 438.22,216.70 448.91,322.14 459.59,216.70 470.28,322.14 480.97,243.03 491.65,243.03 502.34,243.03 513.03,270.64 523.71,322.14 534.40,249.99" fill="none" stroke="#0CA651" stroke-width="1.10" stroke-dasharray="4.07 1.76" stroke-linejoin="round"/>
<circle cx="331.35" cy="243.03" r="2.30" fill="#0CA651"/>
<circle cx="342.04" cy="322.14" r="2.30" fill="#0CA651"/>
<circle cx="352.72" cy="269.48" r="2.30" fill="#0CA651"/>
<circle cx="363.41" cy="243.03" r="2.30" fill="#0CA651"/>
<circle cx="374.10" cy="216.70" r="2.30" fill="#0CA651"/>
<circle cx="384.78" cy="216.70" r="2.30" fill="#0CA651"/>
<circle cx="395.47" cy="269.48" r="2.30" fill="#0CA651"/>
<circle cx="406.16" cy="243.03" r="2.30" fill="#0CA651"/>
<circle cx="416.84" cy="243.03" r="2.30" fill="#0CA651"/>
<circle cx="427.53" cy="269.48" r="2.30" fill="#0CA651"/>
<circle cx="438.22" cy="216.70" r="2.30" fill="#0CA651"/>
<circle cx="448.91" cy="322.14" r="2.30" fill="#0CA651"/>
<circle cx="459.59" cy="216.70" r="2.30" fill="#0CA651"/>
<circle cx="470.28" cy="322.14" r="2.30" fill="#0CA651"/>
<circle cx="480.97" cy="243.03" r="2.30" fill="#0CA651"/>
<circle cx="491.65" cy="243.03" r="2.30" fill="#0CA651"/>
<circle cx="502.34" cy="243.03" r="2.30" fill="#0CA651"/>
<circle cx="513.03" cy="270.64" r="2.30" fill="#0CA651"/>
<circle cx="523.71" cy="322.14" r="2.30" fill="#0CA651"/>
<circle cx="534.40" cy="249.99" r="2.30" fill="#0CA651"/>
<rect x="321.15" y="210.15" width="223.35" height="144.45" fill="none" stroke="#454545" stroke-width="1.25"/>
<text transform="translate(314.90,335.30)" x="-12.78 -9.93 -5.47 -1.82" text-anchor="middle" font-family="'Liberation Sans',sans-serif" font-size="7.3" fill="#333">0.90</text>
<text transform="translate(314.90,312.10)" x="-12.78 -9.93 -5.47 -1.82" text-anchor="middle" font-family="'Liberation Sans',sans-serif" font-size="7.3" fill="#333">0.92</text>
<text transform="translate(314.90,288.90)" x="-12.78 -9.93 -5.47 -1.82" text-anchor="middle" font-family="'Liberation Sans',sans-serif" font-size="7.3" fill="#333">0.94</text>
<text transform="translate(314.90,265.70)" x="-12.78 -9.93 -5.47 -1.82" text-anchor="middle" font-family="'Liberation Sans',sans-serif" font-size="7.3" fill="#333">0.96</text>
<text transform="translate(314.90,242.50)" x="-12.78 -9.93 -5.47 -1.82" text-anchor="middle" font-family="'Liberation Sans',sans-serif" font-size="7.3" fill="#333">0.98</text>
<text transform="translate(314.90,219.30)" x="-12.78 -9.93 -5.47 -1.82" text-anchor="middle" font-family="'Liberation Sans',sans-serif" font-size="7.3" fill="#333">1.00</text>
<text transform="translate(332.15,371.30) rotate(-30)" x="-8.75 -5.25 -1.75 1.75 5.25 8.75" text-anchor="middle" font-family="'Liberation Sans',sans-serif" font-size="7.3" fill="#333"><tspan font-size="7.0">user</tspan>00</text>
<text transform="translate(342.84,371.30) rotate(-30)" x="-8.75 -5.25 -1.75 1.75 5.25 8.75" text-anchor="middle" font-family="'Liberation Sans',sans-serif" font-size="7.3" fill="#333"><tspan font-size="7.0">user</tspan>01</text>
<text transform="translate(353.52,371.30) rotate(-30)" x="-8.75 -5.25 -1.75 1.75 5.25 8.75" text-anchor="middle" font-family="'Liberation Sans',sans-serif" font-size="7.3" fill="#333"><tspan font-size="7.0">user</tspan>02</text>
<text transform="translate(364.21,371.30) rotate(-30)" x="-8.75 -5.25 -1.75 1.75 5.25 8.75" text-anchor="middle" font-family="'Liberation Sans',sans-serif" font-size="7.3" fill="#333"><tspan font-size="7.0">user</tspan>03</text>
<text transform="translate(374.90,371.30) rotate(-30)" x="-8.75 -5.25 -1.75 1.75 5.25 8.75" text-anchor="middle" font-family="'Liberation Sans',sans-serif" font-size="7.3" fill="#333"><tspan font-size="7.0">user</tspan>04</text>
<text transform="translate(385.58,371.30) rotate(-30)" x="-8.75 -5.25 -1.75 1.75 5.25 8.75" text-anchor="middle" font-family="'Liberation Sans',sans-serif" font-size="7.3" fill="#333"><tspan font-size="7.0">user</tspan>05</text>
<text transform="translate(396.27,371.30) rotate(-30)" x="-8.75 -5.25 -1.75 1.75 5.25 8.75" text-anchor="middle" font-family="'Liberation Sans',sans-serif" font-size="7.3" fill="#333"><tspan font-size="7.0">user</tspan>06</text>
<text transform="translate(406.96,371.30) rotate(-30)" x="-8.75 -5.25 -1.75 1.75 5.25 8.75" text-anchor="middle" font-family="'Liberation Sans',sans-serif" font-size="7.3" fill="#333"><tspan font-size="7.0">user</tspan>07</text>
<text transform="translate(417.64,371.30) rotate(-30)" x="-8.75 -5.25 -1.75 1.75 5.25 8.75" text-anchor="middle" font-family="'Liberation Sans',sans-serif" font-size="7.3" fill="#333"><tspan font-size="7.0">user</tspan>08</text>
<text transform="translate(428.33,371.30) rotate(-30)" x="-8.75 -5.25 -1.75 1.75 5.25 8.75" text-anchor="middle" font-family="'Liberation Sans',sans-serif" font-size="7.3" fill="#333"><tspan font-size="7.0">user</tspan>09</text>
<text transform="translate(439.02,371.30) rotate(-30)" x="-8.75 -5.25 -1.75 1.75 5.25 8.75" text-anchor="middle" font-family="'Liberation Sans',sans-serif" font-size="7.3" fill="#333"><tspan font-size="7.0">user</tspan>10</text>
<text transform="translate(449.71,371.30) rotate(-30)" x="-8.75 -5.25 -1.75 1.75 5.25 8.75" text-anchor="middle" font-family="'Liberation Sans',sans-serif" font-size="7.3" fill="#333"><tspan font-size="7.0">user</tspan>11</text>
<text transform="translate(460.39,371.30) rotate(-30)" x="-8.75 -5.25 -1.75 1.75 5.25 8.75" text-anchor="middle" font-family="'Liberation Sans',sans-serif" font-size="7.3" fill="#333"><tspan font-size="7.0">user</tspan>12</text>
<text transform="translate(471.08,371.30) rotate(-30)" x="-8.75 -5.25 -1.75 1.75 5.25 8.75" text-anchor="middle" font-family="'Liberation Sans',sans-serif" font-size="7.3" fill="#333"><tspan font-size="7.0">user</tspan>13</text>
<text transform="translate(481.77,371.30) rotate(-30)" x="-8.75 -5.25 -1.75 1.75 5.25 8.75" text-anchor="middle" font-family="'Liberation Sans',sans-serif" font-size="7.3" fill="#333"><tspan font-size="7.0">user</tspan>14</text>
<text transform="translate(492.45,371.30) rotate(-30)" x="-8.75 -5.25 -1.75 1.75 5.25 8.75" text-anchor="middle" font-family="'Liberation Sans',sans-serif" font-size="7.3" fill="#333"><tspan font-size="7.0">user</tspan>15</text>
<text transform="translate(503.14,371.30) rotate(-30)" x="-8.75 -5.25 -1.75 1.75 5.25 8.75" text-anchor="middle" font-family="'Liberation Sans',sans-serif" font-size="7.3" fill="#333"><tspan font-size="7.0">user</tspan>16</text>
<text transform="translate(513.83,371.30) rotate(-30)" x="-8.75 -5.25 -1.75 1.75 5.25 8.75" text-anchor="middle" font-family="'Liberation Sans',sans-serif" font-size="7.3" fill="#333"><tspan font-size="7.0">user</tspan>17</text>
<text transform="translate(524.51,371.30) rotate(-30)" x="-8.75 -5.25 -1.75 1.75 5.25 8.75" text-anchor="middle" font-family="'Liberation Sans',sans-serif" font-size="7.3" fill="#333"><tspan font-size="7.0">user</tspan>18</text>
<text transform="translate(535.20,371.30) rotate(-30)" x="-8.75 -5.25 -1.75 1.75 5.25 8.75" text-anchor="middle" font-family="'Liberation Sans',sans-serif" font-size="7.3" fill="#333"><tspan font-size="7.0">user</tspan>19</text>
<text transform="translate(296.00,282.57) rotate(-90)" text-anchor="middle" font-family="'Liberation Sans',sans-serif" font-size="7.3" fill="#333" textLength="11.55" lengthAdjust="spacing">Acc</text>
<rect x="466.20" y="213.40" width="73.1" height="21.2" rx="1.5" ry="1.5" fill="#fff" fill-opacity="0.8" stroke="#ccc" stroke-width="0.6"/>
<line x1="469.10" y1="218.80" x2="484.10" y2="218.80" stroke="#1BB0D4" stroke-width="1.10"/>
<rect x="474.40" y="216.50" width="4.60" height="4.60" fill="#1BB0D4"/>
<line x1="469.10" y1="228.60" x2="484.10" y2="228.60" stroke="#0CA651" stroke-width="1.10" stroke-dasharray="4.07 1.76"/>
<circle cx="476.70" cy="228.60" r="2.30" fill="#0CA651"/>
<text transform="translate(490.60,221.30)" x="1.79 5.37 8.95 12.53 16.11 19.69 23.27 26.85 30.43 34.01 37.59 41.17 44.75" text-anchor="middle" font-family="'Liberation Sans',sans-serif" font-size="6.9" fill="#151515" stroke="#151515" stroke-width="0.12">Single-device</text>
<text transform="translate(490.60,231.10)" x="1.79 5.37 8.95 12.53 16.11 19.69 23.27 26.85 30.43 34.01 37.59 41.17" text-anchor="middle" font-family="'Liberation Sans',sans-serif" font-size="6.9" fill="#151515" stroke="#151515" stroke-width="0.12">Multi-device</text>
<text x="429.00" y="390.80" text-anchor="middle" font-family="'Liberation Serif',serif" font-weight="bold" font-size="10.5" fill="#111">(f)</text>
</g>
</svg>
</body></html>
